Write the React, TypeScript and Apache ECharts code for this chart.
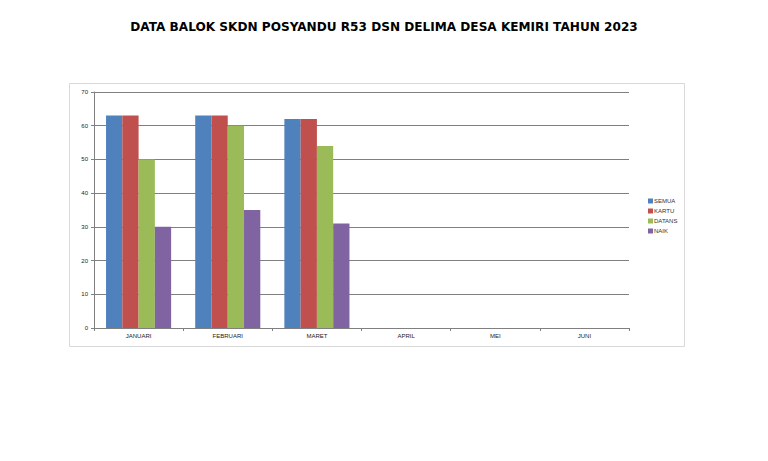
import React, { useEffect, useRef } from "react";
import * as echarts from "echarts";

const categories = ["JANUARI", "FEBRUARI", "MARET", "APRIL", "MEI", "JUNI"];
const semua = [63, 63, 62, 0, 0, 0];
const kartu = [63, 63, 62, 0, 0, 0];
const datang = [50, 60, 54, 0, 0, 0];
const naik = [30, 35, 31, 0, 0, 0];
const seriesNames = ["SEMUA", "KARTU", "DATANS", "NAIK"];
const colors = ["#4F81BD", "#C0504D", "#9BBB59", "#8064A2"];

export default function App() {
  const ref = useRef<HTMLDivElement>(null);
  useEffect(() => {
    const chart = echarts.init(ref.current!, undefined, { renderer: "svg" });
    const data = [semua, kartu, datang, naik];
    chart.setOption({
      animation: false,
      backgroundColor: "#ffffff",
      title: {
        text: "DATA BALOK SKDN POSYANDU R53 DSN DELIMA DESA KEMIRI TAHUN 2023",
        left: "center",
        top: 16,
        textStyle: {
          fontFamily: "DejaVu Sans",
          fontWeight: "bold",
          fontSize: 12.1,
          color: "#000",
        },
      },
      graphic: [
        {
          type: "rect",
          shape: { x: 69.5, y: 83.5, width: 615, height: 263 },
          style: { fill: "none", stroke: "#d9d9d9", lineWidth: 1 },
          silent: true,
        },
      ],
      legend: {
        orient: "vertical",
        left: 643,
        top: 193,
        itemWidth: 5,
        itemHeight: 5,
        itemGap: 4,
        icon: "rect",
        textStyle: { fontSize: 6, color: "#333", fontFamily: "Liberation Sans", padding: [0, 0, 0, -4] },
        data: seriesNames,
      },
      grid: { left: 94, right: 139, top: 92, bottom: 133 },
      xAxis: {
        type: "category",
        data: categories,
        axisLine: { lineStyle: { color: "#808080" } },
        axisTick: { show: true, length: 3, lineStyle: { color: "#808080" } },
        axisLabel: { fontSize: 6, color: "#222", margin: 5, fontFamily: "Liberation Sans" },
      },
      yAxis: {
        type: "value",
        min: 0,
        max: 70,
        interval: 10,
        axisLine: { show: true, lineStyle: { color: "#808080" } },
        axisTick: { show: true, length: 3, lineStyle: { color: "#808080" } },
        axisLabel: { fontSize: 6, color: "#222", margin: 6, fontFamily: "Liberation Sans" },
        splitLine: { lineStyle: { color: "#808080", width: 1 } },
      },
      series: seriesNames.map((n, i) => ({
        name: n,
        type: "bar",
        data: data[i],
        itemStyle: { color: colors[i] },
        barGap: "0%",
        barCategoryGap: "27%",
      })),
    });
    return () => chart.dispose();
  }, []);
  return (
    <div
      ref={ref}
      style={{ position: "fixed", left: 0, top: 0, width: 768, height: 461 }}
    />
  );
}
